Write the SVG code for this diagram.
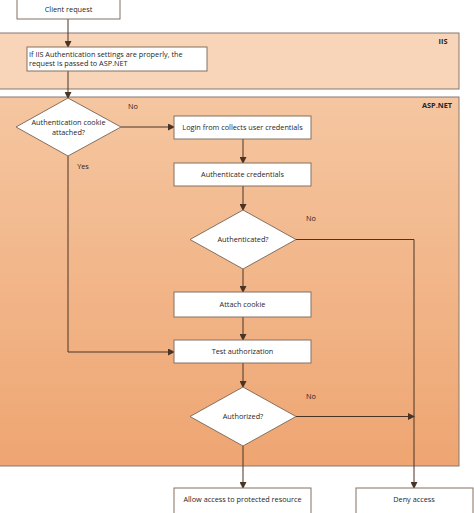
<svg xmlns="http://www.w3.org/2000/svg" width="474" height="513" viewBox="0 0 474 513">
<defs>
<linearGradient id="aspGrad" x1="0" y1="0" x2="0" y2="1">
<stop offset="0" stop-color="#f5c6a0"/>
<stop offset="1" stop-color="#eea572"/>
</linearGradient>
<marker id="arr" markerWidth="7" markerHeight="7" refX="6" refY="3.5" orient="auto" markerUnits="userSpaceOnUse">
<path d="M0,0 L7,3.5 L0,7 Z" fill="#4a3426"/>
</marker>
<style>
.band{stroke:#857870;stroke-width:1}
.box{fill:#ffffff;stroke:#857060;stroke-width:1}
.dia{fill:#ffffff;stroke:#857060;stroke-width:1}
.conn{fill:none;stroke:#4a3426;stroke-width:1;marker-end:url(#arr)}
text{font-family:"Open Sans","Noto Sans","DejaVu Sans",sans-serif;font-size:7.3px;fill:#262626}
.c{text-anchor:middle}
.b{font-weight:bold}
</style>
</defs>
<rect width="474" height="513" fill="#ffffff"/>
<g id="iis-band">
<rect class="band" x="-1" y="33" width="460" height="56" fill="#f8d4b8"/>
<text class="b" x="443" y="44" text-anchor="middle">IIS</text>
</g>
<g id="aspnet-band">
<rect class="band" x="-1" y="97" width="460" height="369" fill="url(#aspGrad)"/>
<text class="b" x="452" y="108" text-anchor="end">ASP.NET</text>
</g>
<g id="connectors">
<path class="conn" d="M68,19 L68,47"/>
<path class="conn" d="M68,71 L68,98"/>
<path class="conn" d="M121,127 L174,127"/>
<path class="conn" d="M243,139 L243,163"/>
<path class="conn" d="M243,186 L243,210"/>
<path class="conn" d="M243,269 L243,292"/>
<path class="conn" d="M243,317 L243,340"/>
<path class="conn" d="M68,156 L68,352 L174,352"/>
<path class="conn" d="M243,363 L243,387"/>
<path class="conn" d="M296,239.5 L414,239.5 L414,488"/>
<path class="conn" d="M296,416.5 L414,416.5"/>
<path class="conn" d="M243,446 L243,488"/>
<text x="133" y="109" class="c">No</text>
<text x="83" y="169" class="c">Yes</text>
<text x="311" y="221" class="c">No</text>
<text x="311" y="399" class="c">No</text>
</g>
<g id="client-request">
<rect class="box" x="17" y="-10" width="103" height="29"/>
<text class="c" x="68.5" y="11.5">Client request</text>
</g>
<g id="iis-check">
<rect class="box" x="27" y="47" width="180" height="24"/>
<text x="29" y="56.5">If IIS Authentication settings are properly, the</text>
<text x="29" y="66">request is passed to ASP.NET</text>
</g>
<g id="cookie-decision">
<polygon class="dia" points="68,98 121,127 68,156 16,127"/>
<text class="c" x="68.5" y="125">Authentication cookie</text>
<text class="c" x="68.5" y="135">attached?</text>
</g>
<g id="login-form">
<rect class="box" x="174" y="116" width="137" height="23"/>
<text class="c" x="242.5" y="130">Login from collects user credentials</text>
</g>
<g id="authenticate-credentials">
<rect class="box" x="174" y="163" width="137" height="23"/>
<text class="c" x="242.5" y="177">Authenticate credentials</text>
</g>
<g id="authenticated-decision">
<polygon class="dia" points="243,210 296,239.5 243,269 190,239.5"/>
<text class="c" x="243" y="242">Authenticated?</text>
</g>
<g id="attach-cookie">
<rect class="box" x="174" y="292" width="137" height="25"/>
<text class="c" x="242.5" y="307">Attach cookie</text>
</g>
<g id="test-authorization">
<rect class="box" x="174" y="340" width="137" height="23"/>
<text class="c" x="242.5" y="354">Test authorization</text>
</g>
<g id="authorized-decision">
<polygon class="dia" points="243,387 296,416.5 243,446 190,416.5"/>
<text class="c" x="243" y="419">Authorized?</text>
</g>
<g id="allow-access">
<rect class="box" x="174" y="488" width="137" height="35"/>
<text class="c" x="242.5" y="502">Allow access to protected resource</text>
</g>
<g id="deny-access">
<rect class="box" x="356" y="488" width="117" height="35"/>
<text class="c" x="414" y="502">Deny access</text>
</g>
</svg>
